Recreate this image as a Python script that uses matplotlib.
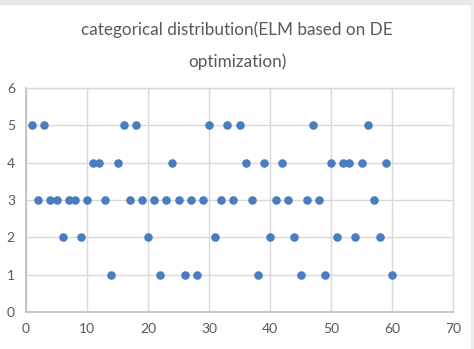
import matplotlib
matplotlib.use("Agg")
import matplotlib.pyplot as plt
from matplotlib.patches import Rectangle

sample_index = list(range(1, 61))
category = [5, 3, 5, 3, 3, 2, 3, 3, 2, 3,
            4, 4, 3, 1, 4, 5, 3, 5, 3, 2,
            3, 1, 3, 4, 3, 1, 3, 1, 3, 5,
            2, 3, 5, 3, 5, 4, 3, 1, 4, 2,
            3, 4, 3, 2, 1, 3, 5, 3, 1, 4,
            2, 4, 4, 2, 4, 5, 3, 2, 4, 1]
x_ticks = [0, 10, 20, 30, 40, 50, 60, 70]
y_ticks = [0, 1, 2, 3, 4, 5, 6]
title_lines = ["categorical distribution(ELM based on DE", "optimization)"]

plt.rcParams['font.family'] = ['Lato', 'DejaVu Sans']
fig = plt.figure(figsize=(4.74, 3.49), dpi=100)
fig.patch.set_facecolor('white')
ax = fig.add_axes([26/474, 1-312/349, (453-26)/474, (312-88)/349])

ax.scatter(sample_index, category, s=38, color='#4a7dc0', zorder=3, linewidths=0)
ax.set_xlim(0, 70)
ax.set_ylim(0, 6)
ax.set_xticks(x_ticks)
ax.set_yticks(y_ticks)
ax.grid(True, color='#d9d9d9', linewidth=1.0, zorder=0)
for s in ['top', 'right']:
    ax.spines[s].set_color('#d9d9d9')
    ax.spines[s].set_linewidth(1.0)
for s in ['bottom', 'left']:
    ax.spines[s].set_color('#bfbfbf')
    ax.spines[s].set_linewidth(1.2)
ax.tick_params(length=0, labelsize=10, labelcolor='#595959', pad=8)

for line, ypix in zip(title_lines, [30, 62]):
    fig.text(237/474, 1-ypix/349, line, ha='center', va='center', fontsize=12.3,
             color='#595959')

# light frame of the screenshot
fig.add_artist(Rectangle((0, 1-4/349), 1, 4/349, transform=fig.transFigure,
                         color='#e8e8e8', zorder=0))
fig.add_artist(Rectangle((471/474, 0), 3/474, 1, transform=fig.transFigure,
                         color='#ececec', zorder=0))

fig.savefig('out.png', dpi=100)
